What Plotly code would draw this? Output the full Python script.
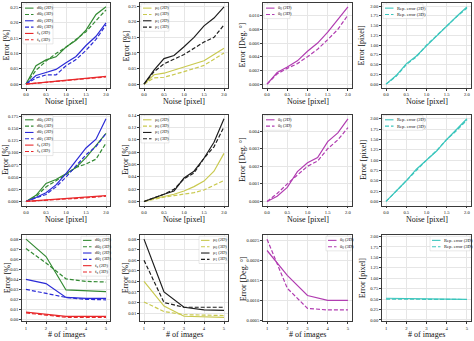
import plotly.graph_objects as go
from plotly.subplots import make_subplots

W, H = 474, 341
FONT = "Liberation Serif"

# ---------------- data ----------------
noise = [0.0, 0.25, 0.5, 0.75, 1.0, 1.25, 1.5, 1.75, 2.0]
n_images = [1, 2, 3, 4, 5]

# experiment A (noise sweep)
a_dth0_2d = [0, 0.060, 0.079, 0.089, 0.121, 0.143, 0.176, 0.227, 0.252]
a_dth0_3d = [0, 0.045, 0.075, 0.100, 0.120, 0.146, 0.171, 0.207, 0.242]
a_dth1_2d = [0, 0.028, 0.038, 0.048, 0.070, 0.090, 0.126, 0.156, 0.200]
a_dth1_3d = [0, 0.020, 0.030, 0.030, 0.060, 0.080, 0.110, 0.146, 0.193]
a_fx_2d = [0, 0.003, 0.006, 0.009, 0.012, 0.015, 0.018, 0.021, 0.025]
a_fx_3d = [0, 0.0028, 0.0056, 0.0084, 0.0112, 0.014, 0.017, 0.020, 0.0235]
a_mu0_2d = [0, 0.030, 0.035, 0.045, 0.055, 0.065, 0.075, 0.095, 0.115]
a_mu0_3d = [0, 0.020, 0.022, 0.030, 0.040, 0.050, 0.060, 0.080, 0.100]
a_mu1_2d = [0, 0.045, 0.082, 0.092, 0.120, 0.150, 0.187, 0.212, 0.248]
a_mu1_3d = [0, 0.040, 0.065, 0.080, 0.095, 0.115, 0.135, 0.150, 0.190]
a_th_2d = [0, 0.0017, 0.0025, 0.0034, 0.0048, 0.0060, 0.0076, 0.0094, 0.0113]
a_th_3d = [0, 0.0015, 0.0023, 0.0030, 0.0040, 0.0051, 0.0065, 0.0080, 0.0101]
a_rep_2d = [0, 0.22, 0.52, 0.72, 0.98, 1.24, 1.50, 1.74, 1.98]
a_rep_3d = [0, 0.20, 0.50, 0.70, 1.00, 1.25, 1.50, 1.73, 1.95]

# experiment B (noise sweep)
b_dth0_2d = [0, 0.0125, 0.037, 0.045, 0.057, 0.070, 0.090, 0.116, 0.140]
b_dth0_3d = [0, 0.010, 0.030, 0.043, 0.055, 0.070, 0.077, 0.087, 0.120]
b_dth1_2d = [0, 0.008, 0.018, 0.034, 0.057, 0.083, 0.110, 0.128, 0.170]
b_dth1_3d = [0, 0.0066, 0.0144, 0.030, 0.050, 0.073, 0.096, 0.113, 0.140]
b_fx_2d = [0, 0.0015, 0.003, 0.0045, 0.006, 0.007, 0.008, 0.0095, 0.012]
b_fx_3d = [0, 0.001, 0.0025, 0.004, 0.005, 0.006, 0.0075, 0.009, 0.011]
b_mu0_2d = [0, 0.005, 0.008, 0.0117, 0.017, 0.024, 0.033, 0.049, 0.078]
b_mu0_3d = [0, 0.004, 0.007, 0.0095, 0.0117, 0.0143, 0.0186, 0.026, 0.034]
b_mu1_2d = [0, 0.0064, 0.0117, 0.017, 0.038, 0.049, 0.070, 0.096, 0.134]
b_mu1_3d = [0, 0.0064, 0.0117, 0.0196, 0.0366, 0.046, 0.070, 0.0886, 0.121]
b_th_2d = [0, 0.0003, 0.0008, 0.0017, 0.0022, 0.0025, 0.0034, 0.0039, 0.0047]
b_th_3d = [0, 0.00045, 0.0010, 0.0015, 0.0020, 0.0023, 0.0030, 0.0035, 0.0042]
b_rep_2d = [0, 0.25, 0.50, 0.78, 1.00, 1.22, 1.50, 1.74, 2.00]
b_rep_3d = [0, 0.25, 0.50, 0.76, 1.00, 1.23, 1.50, 1.72, 1.97]

# image-count sweep
c_dth0_2d = [0.080, 0.0627, 0.0294, 0.0288, 0.0278]
c_dth0_3d = [0.0706, 0.0563, 0.0405, 0.038, 0.0373]
c_dth1_2d = [0.040, 0.0358, 0.022, 0.021, 0.021]
c_dth1_3d = [0.030, 0.026, 0.022, 0.020, 0.0196]
c_fx_2d = [0.0073, 0.005, 0.0032, 0.0032, 0.0032]
c_fx_3d = [0.0066, 0.0047, 0.0022, 0.0022, 0.0022]
c_mu0_2d = [0.040, 0.0166, 0.007, 0.0065, 0.006]
c_mu0_3d = [0.0205, 0.0115, 0.0085, 0.008, 0.0077]
c_mu1_2d = [0.080, 0.030, 0.0155, 0.013, 0.0125]
c_mu1_3d = [0.060, 0.020, 0.0155, 0.0155, 0.0155]
c_th_2d = [0.00224, 0.00162, 0.00112, 0.00100, 0.00100]
c_th_3d = [0.00252, 0.00130, 0.00080, 0.00076, 0.00076]
c_rep_2d = [0.52, 0.51, 0.50, 0.50, 0.495]
c_rep_3d = [0.50, 0.50, 0.49, 0.49, 0.49]

# ---------------- styles ----------------
GREEN, BLUE, RED = "#338a33", "#2b2bd6", "#e8282b"
OLIVE, BLACK = "#c9c94f", "#1e1e1e"
PURPLE, TEAL = "#b13db1", "#3cc6bd"
DASH = "4px,2px"


def pose_series(d0a, d0b, d1a, d1b, fa, fb):
    return [("dθ<sub>0</sub> (2D)", d0a, GREEN, "solid"),
            ("dθ<sub>0</sub> (3D)", d0b, GREEN, DASH),
            ("dθ<sub>1</sub> (2D)", d1a, BLUE, "solid"),
            ("dθ<sub>1</sub> (3D)", d1b, BLUE, DASH),
            ("f<sub>x</sub> (2D)", fa, RED, "solid"),
            ("f<sub>x</sub> (3D)", fb, RED, DASH)]


def mu_series(m0a, m0b, m1a, m1b):
    return [("μ<sub>0</sub> (2D)", m0a, OLIVE, "solid"),
            ("μ<sub>0</sub> (3D)", m0b, OLIVE, DASH),
            ("μ<sub>1</sub> (2D)", m1a, BLACK, "solid"),
            ("μ<sub>1</sub> (3D)", m1b, BLACK, DASH)]


def th_series(ta, tb):
    return [("θ<sub>0</sub> (2D)", ta, PURPLE, "solid"),
            ("θ<sub>0</sub> (3D)", tb, PURPLE, DASH)]


def rep_series(ra, rb):
    return [("Rep. error (2D)", ra, TEAL, "solid"),
            ("Rep. error (3D)", rb, TEAL, DASH)]


ROWS_PX = [(1, 87), (114, 206), (236, 323)]
COLS_PX = [(22, 110), (140, 228), (263, 352), (382, 471)]
YTITLE_X = [[6, 126, 242, 361], [5, 125, 242, 363], [7, 125, 243, 362]]
XTITLE_Y = [100.5, 220, 336.5]

panels = [
    # row, col, x, series, dtick, fmt, yrange, ytitle, legend corner, legend width
    (0, 0, noise, pose_series(a_dth0_2d, a_dth0_3d, a_dth1_2d, a_dth1_3d, a_fx_2d, a_fx_3d), 0.05, ".2f", None, "Error [%]", "tl", 30),
    (0, 1, noise, mu_series(a_mu0_2d, a_mu0_3d, a_mu1_2d, a_mu1_3d), 0.05, ".2f", None, "Error [%]", "tl", 28),
    (0, 2, noise, th_series(a_th_2d, a_th_3d), 0.002, ".3f", None, "Error [Deg. °]", "tl", 26),
    (0, 3, noise, rep_series(a_rep_2d, a_rep_3d), 0.25, ".2f", None, "Error [pixel]", "tl", 40),
    (1, 0, noise, pose_series(b_dth0_2d, b_dth0_3d, b_dth1_2d, b_dth1_3d, b_fx_2d, b_fx_3d), 0.025, ".3f", None, "Error [%]", "tl", 30),
    (1, 1, noise, mu_series(b_mu0_2d, b_mu0_3d, b_mu1_2d, b_mu1_3d), 0.02, ".2f", None, "Error [%]", "tl", 28),
    (1, 2, noise, th_series(b_th_2d, b_th_3d), 0.001, ".3f", None, "Error [Deg. °]", "tl", 26),
    (1, 3, noise, rep_series(b_rep_2d, b_rep_3d), 0.25, ".2f", None, "Error [pixel]", "tl", 40),
    (2, 0, n_images, pose_series(c_dth0_2d, c_dth0_3d, c_dth1_2d, c_dth1_3d, c_fx_2d, c_fx_3d), 0.01, ".2f", None, "Error [%]", "tr", 28),
    (2, 1, n_images, mu_series(c_mu0_2d, c_mu0_3d, c_mu1_2d, c_mu1_3d), 0.01, ".2f", None, "Error [%]", "tr", 28),
    (2, 2, n_images, th_series(c_th_2d, c_th_3d), 0.0005, ".4f", [0.00048, 0.00262], "Error [Deg. °]", "tr", 25),
    (2, 3, n_images, rep_series(c_rep_2d, c_rep_3d), 0.25, ".2f", [-0.03, 2.03], "Error [pixel]", "tr", 40),
]

fig = make_subplots(rows=3, cols=4)
shapes, annotations = [], []


def px_x(v):
    return v / W


def px_y(v):
    return 1 - v / H


def text_px(x, y, text, size, angle=0, xanchor="center"):
    annotations.append(dict(x=px_x(x), y=px_y(y), xref="paper", yref="paper", text=text,
                            showarrow=False, textangle=angle, xanchor=xanchor, yanchor="middle",
                            font=dict(family=FONT, size=size, color="#111"), borderpad=0))


def legend_px(x0, y0, width, entries, row_h=6.4, sample=8.5):
    height = len(entries) * row_h + 2
    shapes.append(dict(type="rect", xref="paper", yref="paper",
                       x0=px_x(x0), x1=px_x(x0 + width), y0=px_y(y0), y1=px_y(y0 + height),
                       fillcolor="rgba(255,255,255,0.85)", line=dict(color="#d0d0d0", width=0.5)))
    for i, (label, _, color, dash) in enumerate(entries):
        cy = y0 + 1 + row_h * (i + 0.5)
        shapes.append(dict(type="line", xref="paper", yref="paper",
                           x0=px_x(x0 + 2), x1=px_x(x0 + 2 + sample), y0=px_y(cy), y1=px_y(cy),
                           line=dict(color=color, width=1.1, dash=dash)))
        text_px(x0 + 4 + sample, cy, label, 4.6, xanchor="left")


for r, c, xs, series, dtick, fmt, yr, ytitle, corner, lw in panels:
    for name, ys, color, dash in series:
        fig.add_trace(go.Scatter(x=xs, y=ys, mode="lines", name=name, showlegend=False,
                                 line=dict(color=color, width=1.2, dash=dash)),
                      row=r + 1, col=c + 1)
    if yr is None:
        lo = min(min(s[1]) for s in series)
        hi = max(max(s[1]) for s in series)
        pad = 0.05 * (hi - lo)
        yr = [lo - pad, hi + pad]
    xmin, xmax = min(xs), max(xs)
    xpad = 0.05 * (xmax - xmin)
    (top, bot), (left, right) = ROWS_PX[r], COLS_PX[c]
    axis_common = dict(showgrid=True, gridcolor="#e6e6e6", gridwidth=0.6, zeroline=False,
                       showline=True, mirror=True, linecolor="#3a3a3a", linewidth=0.7,
                       ticks="outside", ticklen=2, tickwidth=0.5, tickcolor="#3a3a3a",
                       tickfont=dict(family=FONT, size=4.6, color="#111"))
    fig.update_xaxes(domain=[px_x(left), px_x(right)], range=[xmin - xpad, xmax + xpad],
                     tick0=0, dtick=0.5 if r < 2 else 1, tickformat=".1f" if r < 2 else "d",
                     row=r + 1, col=c + 1, **axis_common)
    fig.update_yaxes(domain=[px_y(bot), px_y(top)], range=yr, tick0=0, dtick=dtick,
                     tickformat=fmt, row=r + 1, col=c + 1, **axis_common)
    text_px(YTITLE_X[r][c], (top + bot) / 2, ytitle, 8, angle=-90)
    text_px((left + right) / 2, XTITLE_Y[r], "Noise [pixel]" if r < 2 else "# of images", 8)
    if corner == "tl":
        legend_px(left + 1, top + 1, lw, series)
    else:
        legend_px(right - 1 - lw, top + 1, lw, series)

fig.update_layout(width=W, height=H, margin=dict(l=0, r=0, t=0, b=0),
                  paper_bgcolor="white", plot_bgcolor="white",
                  shapes=shapes, annotations=annotations, showlegend=False)
fig.write_html("out.html")
